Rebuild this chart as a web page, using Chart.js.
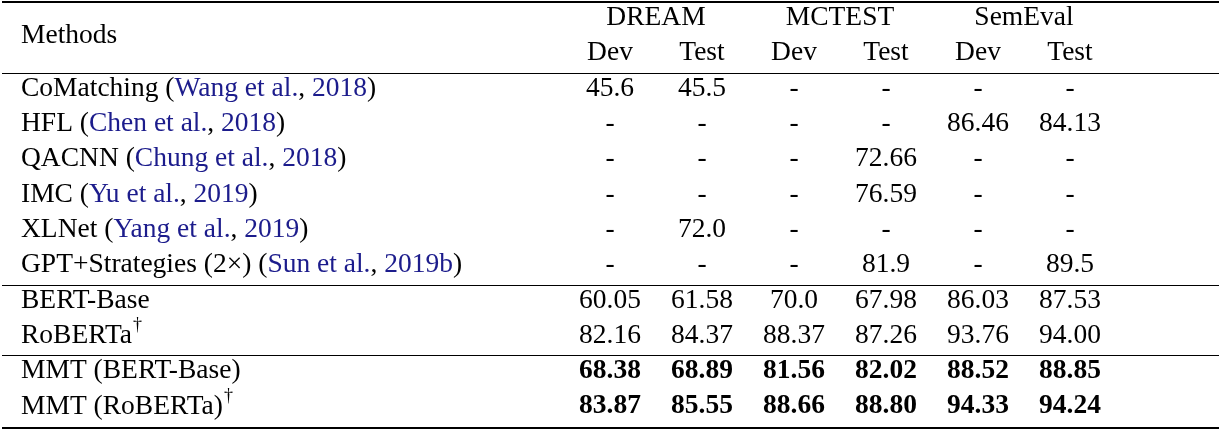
<!DOCTYPE html>
<html>
<head>
<meta charset="utf-8">
<script src="https://cdn.jsdelivr.net/npm/chart.js@4/dist/chart.umd.min.js"></script>
<style>
  html, body { margin: 0; padding: 0; background: #fff; }
  #wrap { width: 1224px; height: 433px; }
</style>
</head>
<body>
<div id="wrap"><canvas id="table"></canvas></div>
<script>
// Table content
const groups = ["DREAM", "MCTEST", "SemEval"];
const columns = ["Dev", "Test", "Dev", "Test", "Dev", "Test"];
const methodNames = ["CoMatching", "HFL", "QACNN", "IMC", "XLNet", "GPT+Strategies (2\u00d7)",
  "BERT-Base", "RoBERTa", "MMT (BERT-Base)", "MMT (RoBERTa)"];
const citations = ["Wang et al., 2018", "Chen et al., 2018", "Chung et al., 2018", "Yu et al., 2019",
  "Yang et al., 2019", "Sun et al., 2019b", null, null, null, null];
const dagger = [false, false, false, false, false, false, false, true, false, true];
const bold = [false, false, false, false, false, false, false, false, true, true];
const scores = [
  ["45.6", "45.5", "-", "-", "-", "-"],
  ["-", "-", "-", "-", "86.46", "84.13"],
  ["-", "-", "-", "72.66", "-", "-"],
  ["-", "-", "-", "76.59", "-", "-"],
  ["-", "72.0", "-", "-", "-", "-"],
  ["-", "-", "-", "81.9", "-", "89.5"],
  ["60.05", "61.58", "70.0", "67.98", "86.03", "87.53"],
  ["82.16", "84.37", "88.37", "87.26", "93.76", "94.00"],
  ["68.38", "68.89", "81.56", "82.02", "88.52", "88.85"],
  ["83.87", "85.55", "88.66", "88.80", "94.33", "94.24"]
];
// rule drawn after these row labels
const ruleAfter = ["sub", "GPT+Strategies (2\u00d7)", "RoBERTa"];

const rowLabels = ["group", "sub"].concat(methodNames);
const FONT = "'Liberation Serif', 'DejaVu Serif', serif";
const SIZE = "27.5px ";
const BLUE = "#1c1c8c";

const tablePlugin = {
  id: "tablePlugin",
  afterDraw(chart) {
    const ctx = chart.ctx;
    const x = chart.scales.x, y = chart.scales.y;
    const step = y.getPixelForValue(1) - y.getPixelForValue(0);
    const left = 2, right = 1219;
    ctx.save();
    ctx.fillStyle = "#000";
    ctx.textBaseline = "middle";
    ctx.font = SIZE + FONT;

    // headers
    ctx.textAlign = "left";
    ctx.fillText("Methods", 21, (y.getPixelForValue(0) + y.getPixelForValue(1)) / 2);
    ctx.textAlign = "center";
    groups.forEach((g, i) => {
      const cx = (x.getPixelForValue(2 * i) + x.getPixelForValue(2 * i + 1)) / 2;
      ctx.fillText(g, cx, y.getPixelForValue(0));
    });
    columns.forEach((c, i) => ctx.fillText(c, x.getPixelForValue(i), y.getPixelForValue(1)));

    // body
    methodNames.forEach((name, r) => {
      const py = y.getPixelForValue(r + 2);
      ctx.font = SIZE + FONT;
      ctx.textAlign = "left";
      let px = 21;
      ctx.fillStyle = "#000";
      ctx.fillText(name, px, py);
      px += ctx.measureText(name).width;
      if (dagger[r]) {
        ctx.font = "18px " + FONT;
        ctx.fillText("\u2020", px + 1, py - 10);
        px += ctx.measureText("\u2020").width + 1;
        ctx.font = SIZE + FONT;
      }
      if (citations[r]) {
        ctx.fillText(" (", px, py);
        px += ctx.measureText(" (").width;
        const parts = citations[r].split(", ");
        ctx.fillStyle = BLUE;
        ctx.fillText(parts[0], px, py);
        px += ctx.measureText(parts[0]).width;
        ctx.fillStyle = "#000";
        ctx.fillText(", ", px, py);
        px += ctx.measureText(", ").width;
        ctx.fillStyle = BLUE;
        ctx.fillText(parts[1], px, py);
        px += ctx.measureText(parts[1]).width;
        ctx.fillStyle = "#000";
        ctx.fillText(")", px, py);
      }
      ctx.fillStyle = "#000";
      ctx.textAlign = "center";
      ctx.font = (bold[r] ? "bold " : "") + SIZE + FONT;
      scores[r].forEach((v, c) => ctx.fillText(v, x.getPixelForValue(c), py));
    });

    // rules
    ctx.strokeStyle = "#000";
    const top = Math.max(1.5, y.getPixelForValue(0) - step / 2 + 2);
    const bottom = y.getPixelForValue(rowLabels.length - 1) + step / 2 + 4;
    ctx.lineWidth = 1.8;
    [top, bottom].forEach(yy => {
      ctx.beginPath(); ctx.moveTo(left, yy); ctx.lineTo(right, yy); ctx.stroke();
    });
    ctx.lineWidth = 1.2;
    ruleAfter.forEach(lbl => {
      const i = rowLabels.indexOf(lbl);
      const yy = Math.round(y.getPixelForValue(i) + step / 2) + 2.5;
      ctx.beginPath(); ctx.moveTo(left, yy); ctx.lineTo(right, yy); ctx.stroke();
    });
    ctx.restore();
  }
};

new Chart(document.getElementById("table"), {
  type: "scatter",
  data: { labels: columns, datasets: [{ data: [] }] },
  options: {
    responsive: true,
    maintainAspectRatio: false,
    animation: false,
    events: [],
    layout: { padding: { left: 564, right: 108, top: 0, bottom: 9 } },
    plugins: { legend: { display: false }, tooltip: { enabled: false } },
    scales: {
      x: { type: "category", labels: columns.map((c, i) => c + i), offset: true, display: false },
      y: { type: "category", labels: rowLabels, offset: true, display: false }
    }
  },
  plugins: [tablePlugin]
});
</script>
</body>
</html>
